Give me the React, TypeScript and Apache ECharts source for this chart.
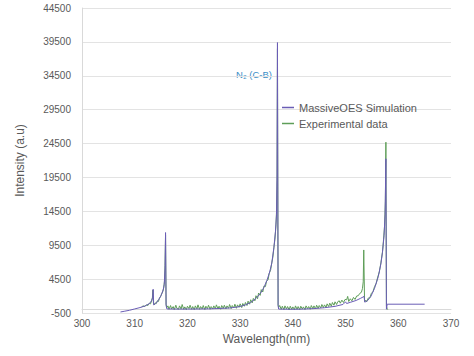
import React, { useEffect, useRef } from "react";
import * as echarts from "echarts";

const xTicks = { min: 300, max: 370, interval: 10 };
const yTicks = { min: -500, max: 44500, interval: 5000 };

const seriesNames = ["MassiveOES Simulation", "Experimental data"];

const simData: [number, number][] = [
  [307.3, -350], [308, -250], [309, -100], [310, 100], [311, 300], [312, 550],
  [312.8, 900], [313.2, 1300], [313.4, 1800], [313.5, 3000], [313.6, 700],
  [314.0, 900], [314.5, 1400], [315.0, 2100], [315.4, 2900], [315.6, 3700],
  [315.75, 6000], [315.85, 11370], [315.95, 600], [316.1, 100], [318, 80],
  [320, 80], [322, 90], [324, 110], [326, 160], [328, 240], [329, 330],
  [330, 460], [331, 700], [332, 1050], [333, 1650], [333.8, 2350], [334.5, 3250],
  [335.1, 4350], [335.6, 5550], [336.0, 6850], [336.4, 9150], [336.7, 11500],
  [336.9, 14000], [337.0, 20000], [337.08, 39400], [337.2, 600], [337.3, 80],
  [340, 50], [342, 80], [344, 150], [346, 280], [348, 480], [349.5, 760],
  [350.0, 1150], [350.2, 900], [351.0, 1100], [352.0, 1350], [352.8, 1650],
  [353.3, 1850], [353.5, 1950], [353.65, 1100], [354.2, 1350], [354.8, 1950],
  [355.5, 3150], [356.2, 4850], [356.7, 6750], [357.0, 8450], [357.3, 10900],
  [357.5, 14000], [357.65, 22250], [357.75, 50], [357.9, 800], [365.0, 800],
];

const expData: [number, number][] = [
  [311.3, 400], [311.6, 550], [311.9, 450], [312.2, 700], [312.5, 600], [312.8, 950],
  [313.0, 850], [313.2, 1300], [313.35, 1700], [313.45, 2900], [313.55, 1000],
  [313.7, 700], [313.9, 1000], [314.1, 900], [314.3, 1300], [314.5, 1200],
  [314.7, 1700], [314.9, 1900], [315.1, 2300], [315.3, 2600], [315.5, 3200],
  [315.65, 4200], [315.75, 6500], [315.85, 11000], [315.95, 800], [316.1, 300],
  [316.3, 550], [316.5, 50], [316.8, 600], [317.0, 100], [317.3, 450], [317.5, 0],
  [317.8, 650], [318.0, 200], [318.3, 50], [318.5, 550], [318.8, 100], [319.0, 750],
  [319.3, 50], [319.5, 400], [319.8, 0], [320.0, 500], [320.3, 150], [320.5, 650],
  [320.8, 50], [321.0, 450], [321.3, 0], [321.5, 550], [321.8, 100], [322.0, 700],
  [322.3, 50], [322.5, 450], [322.8, 100], [323.0, 600], [323.3, 0], [323.5, 500],
  [323.8, 150], [324.0, 650], [324.3, 50], [324.5, 450], [324.8, 100], [325.0, 550],
  [325.3, 150], [325.5, 700], [325.8, 100], [326.0, 500], [326.3, 50], [326.5, 600],
  [326.8, 200], [327.0, 650], [327.3, 100], [327.5, 550], [327.8, 200], [328.0, 750],
  [328.3, 150], [328.5, 600], [328.8, 250], [329.0, 800], [329.3, 200], [329.5, 700],
  [329.8, 350], [330.0, 850], [330.3, 300], [330.5, 900], [330.8, 500], [331.0, 1050],
  [331.3, 600], [331.5, 1250], [331.8, 800], [332.0, 1450], [332.3, 1000], [332.5, 1650],
  [332.8, 1300], [333.0, 2050], [333.3, 1600], [333.5, 2450], [333.8, 2100], [334.0, 2950],
  [334.3, 2600], [334.5, 3450], [334.8, 3400], [335.0, 4200], [335.3, 4400], [335.5, 5300],
  [335.8, 5900], [336.0, 6900], [336.2, 7700], [336.4, 9100], [336.6, 10400],
  [336.8, 12500], [336.9, 14500], [337.0, 19000], [337.08, 38500], [337.2, 700],
  [337.3, 300], [337.5, 600], [337.8, 50], [338.0, 500], [338.3, 0], [338.5, 550],
  [338.8, 100], [339.0, 450], [339.3, -50], [339.5, 500], [339.8, 50], [340.0, 400],
  [340.3, 0], [340.5, 550], [340.8, 50], [341.0, 450], [341.3, 0], [341.5, 500],
  [341.8, 100], [342.0, 400], [342.3, 0], [342.5, 550], [342.8, 150], [343.0, 450],
  [343.3, 50], [343.5, 600], [343.8, 150], [344.0, 550], [344.3, 100], [344.5, 650],
  [344.8, 200], [345.0, 600], [345.3, 250], [345.5, 750], [345.8, 300], [346.0, 700],
  [346.3, 350], [346.5, 850], [346.8, 450], [347.0, 950], [347.3, 500], [347.5, 1050],
  [347.8, 650], [348.0, 1150], [348.3, 750], [348.5, 1150], [348.8, 1300], [349.0, 950],
  [349.3, 1400], [349.6, 1050], [349.9, 1500], [350.2, 1450], [350.4, 1950], [350.6, 1200],
  [350.9, 1600], [351.2, 1300], [351.5, 1800], [351.8, 1500], [352.1, 2000], [352.4, 2050],
  [352.7, 2400], [353.0, 2550], [353.2, 3100], [353.35, 4100], [353.45, 8800],
  [353.6, 1200], [353.8, 1400], [354.0, 1150], [354.3, 1700], [354.6, 1750],
  [354.9, 2400], [355.2, 2650], [355.5, 3400], [355.8, 3850], [356.1, 4800],
  [356.4, 5550], [356.7, 6900], [357.0, 8500], [357.2, 10300], [357.4, 12400],
  [357.55, 16000], [357.65, 24700], [357.75, 500], [357.9, 100], [358.0, 0],
];

const annotationText = "N₂ (C-B)";

export default function App() {
  const ref = useRef<HTMLDivElement>(null);
  useEffect(() => {
    if (!ref.current) return;
    const chart = echarts.init(ref.current, undefined, { renderer: "svg" });
    const font = "'Liberation Sans', Arial, sans-serif";
    chart.setOption({
      animation: false,
      textStyle: { fontFamily: font },
      grid: { left: 82, right: 23, top: 8, bottom: 43 },
      legend: {
        data: seriesNames.map((n) => ({ name: n, icon: "rect" })),
        orient: "vertical",
        left: 282,
        top: 102,
        padding: 0,
        itemWidth: 12,
        itemHeight: 1.5,
        itemGap: 5,
        textStyle: { fontSize: 11, color: "#595959", fontFamily: font },
      },
      xAxis: {
        type: "value",
        min: xTicks.min,
        max: xTicks.max,
        interval: xTicks.interval,
        name: "Wavelength(nm)",
        nameLocation: "middle",
        nameGap: 10,
        nameTextStyle: { fontSize: 12, color: "#595959" },
        axisLine: { show: true, lineStyle: { color: "#d9d9d9" } },
        axisTick: { show: false },
        axisLabel: { fontSize: 10, color: "#595959", margin: 5 },
        splitLine: { show: false },
      },
      yAxis: {
        type: "value",
        min: yTicks.min,
        max: yTicks.max,
        interval: yTicks.interval,
        name: "Intensity (a.u)",
        nameLocation: "middle",
        nameGap: 56,
        nameTextStyle: { fontSize: 12, color: "#595959" },
        axisLine: { show: true, lineStyle: { color: "#d9d9d9" } },
        axisTick: { show: false },
        axisLabel: {
          fontSize: 10,
          color: "#595959",
          margin: 11,
          formatter: (v: number) => String(v),
        },
        splitLine: { show: true, lineStyle: { color: "#e3e3e3" } },
      },
      graphic: [
        {
          type: "text",
          x: 272,
          y: 74,
          style: {
            text: annotationText,
            fill: "#3A8DC5",
            fontSize: 9.5,
            fontFamily: font,
            align: "right",
            verticalAlign: "middle",
          },
        },
      ],
      series: [
        {
          name: seriesNames[1],
          type: "line",
          data: expData,
          symbol: "none",
          lineStyle: { width: 1, color: "#5E9E58" },
          itemStyle: { color: "#5E9E58" },
          z: 2,
        },
        {
          name: seriesNames[0],
          type: "line",
          data: simData,
          symbol: "none",
          lineStyle: { width: 1, color: "#6A5DB5" },
          itemStyle: { color: "#6A5DB5" },
          z: 3,
        },
      ],
    });
    return () => chart.dispose();
  }, []);
  return (
    <div
      ref={ref}
      style={{ position: "absolute", left: 0, top: 0, width: 474, height: 356 }}
    />
  );
}
